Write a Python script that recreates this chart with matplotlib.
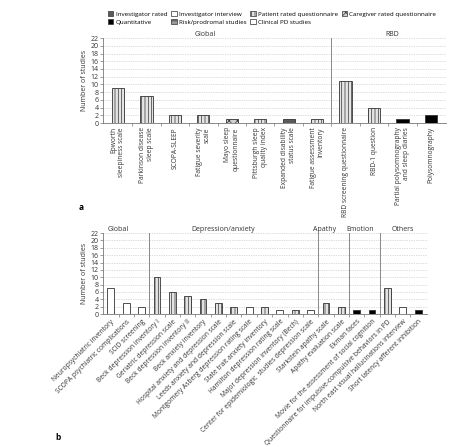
import matplotlib
matplotlib.use("Agg")
import matplotlib.pyplot as plt
from matplotlib.patches import Patch
import numpy as np

plt.rcParams['font.family'] = ['Open Sans', 'DejaVu Sans']
plt.rcParams['hatch.linewidth'] = 0.5
plt.rcParams['hatch.color'] = '#555555'

# panel a
names_a = ["Epworth\nsleepiness scale", "Parkinson disease\nsleep scale", "SCOPA-SLEEP",
           "Fatigue severity\nscale", "Mayo sleep\nquestionnaire", "Pittsburgh sleep\nquality index",
           "Expanded disability\nstatus scale", "Fatigue assessment\ninventory",
           "RBD screening questionnaire", "RBD-1 question",
           "Partial polysomnography\nand sleep diaries", "Polysomnography"]
values_a = [9, 7, 2, 2, 1, 1, 1, 1, 11, 4, 1, 2]
types_a = ["PRQ", "PRQ", "PRQ", "PRQ", "CRQ", "PRQ", "IR", "PRQ", "PRQ", "PRQ", "Q", "Q"]
groups_a = ["Global", "RBD"]
group_x_a = [3.05, 9.65]
dividers_a = [7.5]

# panel b
names_b = ["Neuropsychiatric inventory", "SCOPA psychiatric complications", "SCID screening",
           "Beck depression inventory I", "Geriatric depression scale", "Beck depression inventory II",
           "Beck anxiety inventory", "Hospital anxiety and depression scale",
           "Leeds anxiety and depression scale", "Montgomery Asberg depression rating scale",
           "State trait anxiety inventory", "Hamilton depression rating scale",
           "Major depression inventory (Bech)", "Center for epidemiologic  studies depression scale",
           "Starkstein apathy scale", "Apathy evaluation scale", "Ekman faces",
           "Movie for the assessment of social cognition",
           "Questionnaire for impulsive-compulsive behaviors in PD",
           "North east visual hallucinations interview", "Short latency afferent inhibition"]
values_b = [7, 3, 2, 10, 6, 5, 4, 3, 2, 2, 2, 1, 1, 1, 3, 2, 1, 1, 7, 2, 1]
types_b = ["II", "II", "II", "PRQ", "PRQ", "PRQ", "PRQ", "PRQ", "PRQ", "II", "PRQ", "II",
           "PRQ", "II", "PRQ", "PRQ", "Q", "Q", "PRQ", "II", "Q"]
groups_b = ["Global", "Depression/anxiety", "Apathy", "Emotion", "Others"]
group_x_b = [0.5, 7.3, 13.9, 16.2, 19.0]
dividers_b = [2.5, 13.5, 15.5, 17.5]

styles = {
    "IR": dict(facecolor="#5a5a5a", hatch=None),
    "II": dict(facecolor="white", hatch=None),
    "PRQ": dict(facecolor="#e4e4e4", hatch="|||||"),
    "CRQ": dict(facecolor="#d0d0d0", hatch="xxxx"),
    "Q": dict(facecolor="black", hatch=None),
    "RP": dict(facecolor="#9a9a9a", hatch="++"),
    "CPD": dict(facecolor="white", hatch="+"),
}
legend_labels = {"IR": "Investigator rated", "II": "Investigator interview",
                 "PRQ": "Patient rated questionnaire", "CRQ": "Caregiver rated questionnaire",
                 "Q": "Quantitative", "RP": "Risk/prodromal studies", "CPD": "Clinical PD studies"}

fig = plt.figure(figsize=(4.74, 4.47), dpi=100)
ax_a = fig.add_axes([0.217, 0.7248, 0.724, 0.190])
ax_b = fig.add_axes([0.217, 0.2975, 0.683, 0.181])


def draw(ax, names, values, types, groups, gx, dividers, width, rot, xlim):
    x = np.arange(len(names))
    for i, (v, t) in enumerate(zip(values, types)):
        st = styles[t]
        ax.bar(x[i], v, width=width, facecolor=st["facecolor"], hatch=st["hatch"],
               edgecolor="#333333", linewidth=0.6, zorder=3)
    ax.set_xlim(*xlim)
    ax.set_ylim(0, 22)
    ax.set_yticks(range(0, 23, 2))
    ax.yaxis.grid(True, linestyle=(0, (1, 1.5)), color="#bbbbbb", linewidth=0.5)
    ax.set_axisbelow(True)
    for s in ["top", "right"]:
        ax.spines[s].set_visible(False)
    for s in ["left", "bottom"]:
        ax.spines[s].set_color("#777777")
        ax.spines[s].set_linewidth(0.6)
    ax.set_xticks(x)
    if rot == 90:
        ax.set_xticklabels(names, rotation=90, ha="center", va="top",
                           multialignment="right", fontsize=4.8, color="#333333")
    else:
        ax.set_xticklabels(names, rotation=45, ha="right", va="top",
                           rotation_mode="anchor", fontsize=4.8, color="#333333")
    ax.tick_params(axis="x", which="major", length=0, pad=3)
    ax.set_xticks(np.arange(0.5, len(names) - 0.5), minor=True)
    ax.tick_params(axis="x", which="minor", length=2, width=0.5, color="#777777")
    ax.tick_params(axis="y", labelsize=5, length=2, width=0.5, pad=1,
                   color="#777777", labelcolor="#333333")
    ax.set_ylabel("Number of studies", fontsize=5, color="#333333", labelpad=2)
    for d in dividers:
        ax.axvline(d, color="#888888", linewidth=0.7, zorder=4)
    for g, xx in zip(groups, gx):
        ax.text(xx, 1.0, g, transform=ax.get_xaxis_transform(), ha="center",
                va="bottom", fontsize=5, color="#333333")


draw(ax_a, names_a, values_a, types_a, groups_a, group_x_a, dividers_a, 0.43, 90, (-0.53, 11.53))
draw(ax_b, names_b, values_b, types_b, groups_b, group_x_b, dividers_b, 0.44, 45, (-0.52, 20.55))

fig.text(81 / 474, 1 - 208 / 447, "a", fontsize=6, fontweight="bold", ha="center", va="center")
fig.text(58 / 474, 1 - 437 / 447, "b", fontsize=6, fontweight="bold", ha="center", va="center")

order = ["IR", "Q", "II", "RP", "PRQ", "CPD", "CRQ"]
handles = [Patch(facecolor=styles[k]["facecolor"], hatch=styles[k]["hatch"],
                 edgecolor="#333333", linewidth=0.5, label=legend_labels[k]) for k in order]
fig.legend(handles=handles, ncol=4, loc="upper left", bbox_to_anchor=(0.218, 0.985),
           frameon=False, fontsize=4.5, handlelength=0.9, handleheight=0.9,
           handletextpad=0.35, columnspacing=0.6, labelspacing=0.35, borderpad=0.2)

fig.savefig("out.png", dpi=100)
